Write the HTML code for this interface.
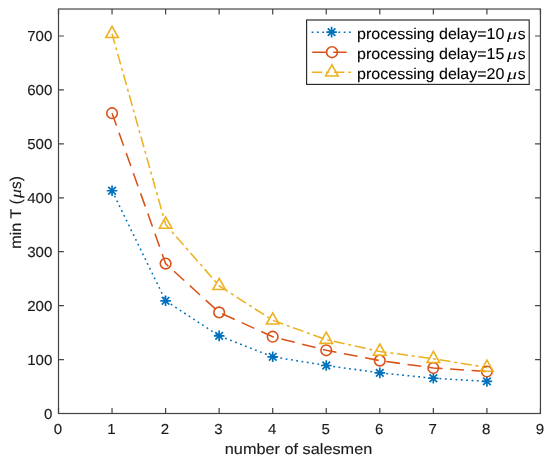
<!DOCTYPE html>
<html><head><meta charset="utf-8"><title>min T vs number of salesmen</title>
<style>html,body{margin:0;padding:0;background:#fff;}svg{display:block;}</style></head>
<body><svg width="550" height="462" viewBox="0 0 550 462" text-rendering="geometricPrecision">
<rect width="550" height="462" fill="#fff"/>
<rect x="58.5" y="9.02" width="481.95" height="404.48" fill="none" stroke="#444444" stroke-width="1.2"/>
<path d="M58.50 413.5V408.1M58.50 9.02V14.42M112.05 413.5V408.1M112.05 9.02V14.42M165.60 413.5V408.1M165.60 9.02V14.42M219.15 413.5V408.1M219.15 9.02V14.42M272.70 413.5V408.1M272.70 9.02V14.42M326.25 413.5V408.1M326.25 9.02V14.42M379.80 413.5V408.1M379.80 9.02V14.42M433.35 413.5V408.1M433.35 9.02V14.42M486.90 413.5V408.1M486.90 9.02V14.42M540.45 413.5V408.1M540.45 9.02V14.42M58.5 413.50H63.9M540.45 413.50H535.05M58.5 359.57H63.9M540.45 359.57H535.05M58.5 305.64H63.9M540.45 305.64H535.05M58.5 251.71H63.9M540.45 251.71H535.05M58.5 197.78H63.9M540.45 197.78H535.05M58.5 143.85H63.9M540.45 143.85H535.05M58.5 89.92H63.9M540.45 89.92H535.05M58.5 35.99H63.9M540.45 35.99H535.05" stroke="#444444" stroke-width="1.2" fill="none"/>
<polyline points="112.05,190.77 165.60,300.79 219.15,335.84 272.70,356.82 326.25,365.50 379.80,372.89 433.35,378.23 486.90,381.41" fill="none" stroke="#0072BD" stroke-width="1.55" stroke-dasharray="1.8 3.55" stroke-dashoffset="-0.2"/>
<polyline points="112.05,113.22 165.60,263.57 219.15,312.38 272.70,336.70 326.25,350.29 379.80,360.59 433.35,367.98 486.90,371.49" fill="none" stroke="#D95319" stroke-width="1.55" stroke-dasharray="13.8 7.67" stroke-dashoffset="0.8"/>
<polyline points="112.05,33.83 165.60,224.48 219.15,285.79 272.70,320.31 326.25,339.62 379.80,351.48 433.35,358.81 486.90,367.50" fill="none" stroke="#EDB120" stroke-width="1.55" stroke-dasharray="11 3.8 3 3.7" stroke-dashoffset="0.7"/>
<g fill="none" stroke="#0072BD" stroke-width="1.7"><path d="M106.75 190.77H117.35M112.05 185.47V196.07M108.25 186.97L115.85 194.57M108.25 194.57L115.85 186.97"/><path d="M160.30 300.79H170.90M165.60 295.49V306.09M161.80 296.99L169.40 304.59M161.80 304.59L169.40 296.99"/><path d="M213.85 335.84H224.45M219.15 330.54V341.14M215.35 332.04L222.95 339.64M215.35 339.64L222.95 332.04"/><path d="M267.40 356.82H278.00M272.70 351.52V362.12M268.90 353.02L276.50 360.62M268.90 360.62L276.50 353.02"/><path d="M320.95 365.50H331.55M326.25 360.20V370.80M322.45 361.70L330.05 369.30M322.45 369.30L330.05 361.70"/><path d="M374.50 372.89H385.10M379.80 367.59V378.19M376.00 369.09L383.60 376.69M376.00 376.69L383.60 369.09"/><path d="M428.05 378.23H438.65M433.35 372.93V383.53M429.55 374.43L437.15 382.03M429.55 382.03L437.15 374.43"/><path d="M481.60 381.41H492.20M486.90 376.11V386.71M483.10 377.61L490.70 385.21M483.10 385.21L490.70 377.61"/></g>
<g fill="none" stroke="#D95319" stroke-width="1.6"><circle cx="112.05" cy="113.22" r="5.3"/><circle cx="165.60" cy="263.57" r="5.3"/><circle cx="219.15" cy="312.38" r="5.3"/><circle cx="272.70" cy="336.70" r="5.3"/><circle cx="326.25" cy="350.29" r="5.3"/><circle cx="379.80" cy="360.59" r="5.3"/><circle cx="433.35" cy="367.98" r="5.3"/><circle cx="486.90" cy="371.49" r="5.3"/></g>
<g fill="none" stroke="#EDB120" stroke-width="1.6"><path d="M112.05 26.37L118.35 37.57L105.75 37.57Z"/><path d="M165.60 217.01L171.90 228.21L159.30 228.21Z"/><path d="M219.15 278.33L225.45 289.53L212.85 289.53Z"/><path d="M272.70 312.84L279.00 324.04L266.40 324.04Z"/><path d="M326.25 332.15L332.55 343.35L319.95 343.35Z"/><path d="M379.80 344.01L386.10 355.21L373.50 355.21Z"/><path d="M433.35 351.35L439.65 362.55L427.05 362.55Z"/><path d="M486.90 360.03L493.20 371.23L480.60 371.23Z"/></g>
<g font-family="Liberation Sans, Arial, sans-serif" font-size="14.5" fill="#1a1a1a" stroke="#1a1a1a" stroke-width="0.12"><text transform="translate(57.90 433.7) scale(1.04 1)" text-anchor="middle">0</text><text transform="translate(111.45 433.7) scale(1.04 1)" text-anchor="middle">1</text><text transform="translate(165.00 433.7) scale(1.04 1)" text-anchor="middle">2</text><text transform="translate(218.55 433.7) scale(1.04 1)" text-anchor="middle">3</text><text transform="translate(272.10 433.7) scale(1.04 1)" text-anchor="middle">4</text><text transform="translate(325.65 433.7) scale(1.04 1)" text-anchor="middle">5</text><text transform="translate(379.20 433.7) scale(1.04 1)" text-anchor="middle">6</text><text transform="translate(432.75 433.7) scale(1.04 1)" text-anchor="middle">7</text><text transform="translate(486.30 433.7) scale(1.04 1)" text-anchor="middle">8</text><text transform="translate(539.85 433.7) scale(1.04 1)" text-anchor="middle">9</text><text transform="translate(52.4 418.60) scale(1.04 1)" text-anchor="end">0</text><text transform="translate(52.4 364.67) scale(1.04 1)" text-anchor="end">100</text><text transform="translate(52.4 310.74) scale(1.04 1)" text-anchor="end">200</text><text transform="translate(52.4 256.81) scale(1.04 1)" text-anchor="end">300</text><text transform="translate(52.4 202.88) scale(1.04 1)" text-anchor="end">400</text><text transform="translate(52.4 148.95) scale(1.04 1)" text-anchor="end">500</text><text transform="translate(52.4 95.02) scale(1.04 1)" text-anchor="end">600</text><text transform="translate(52.4 41.09) scale(1.04 1)" text-anchor="end">700</text></g>
<text transform="translate(224.81 453.7) scale(1.0851 1)" font-family="Liberation Sans, Arial, sans-serif" font-size="15" fill="#1a1a1a" stroke="#1a1a1a" stroke-width="0.12">number of salesmen</text>
<text transform="translate(21.0 247.8) rotate(-90) translate(-1.04 0) scale(1.0430 1)" font-family="Liberation Sans, Arial, sans-serif" font-size="15.5" fill="#1a1a1a" stroke="#1a1a1a" stroke-width="0.12">min T (</text>
<text transform="translate(21.0 247.8) rotate(-90) translate(49.80 0) scale(1.1448 1)" font-family="Liberation Serif, Times New Roman, serif" font-style="italic" font-size="15.5" fill="#1a1a1a" stroke="#1a1a1a" stroke-width="0.12">μ</text>
<text transform="translate(21.0 247.8) rotate(-90) translate(58.81 0) scale(0.9826 1)" font-family="Liberation Sans, Arial, sans-serif" font-size="15.5" fill="#1a1a1a" stroke="#1a1a1a" stroke-width="0.12">s)</text>
<g><rect x="306.6" y="20" width="222.6" height="64.4" fill="#fff" stroke="#262626" stroke-width="1.15"/><line x1="311.6" y1="32.15" x2="351.5" y2="32.15" stroke="#0072BD" stroke-width="1.55" stroke-dasharray="1.8 3.55"/><g fill="none" stroke="#0072BD" stroke-width="1.7"><path d="M326.30 32.15H336.90M331.60 26.85V37.45M327.80 28.35L335.40 35.95M327.80 35.95L335.40 28.35"/></g><text transform="translate(357.07 38.5) scale(1.0333 1)" font-family="Liberation Sans, Arial, sans-serif" font-size="15.5" fill="#000" stroke="#000" stroke-width="0.1">processing delay=10</text><text transform="translate(507.10 38.5) scale(1.3778 1)" font-family="Liberation Serif, Times New Roman, serif" font-style="italic" font-size="14.5" fill="#000" stroke="#000" stroke-width="0">μ</text><text transform="translate(517.80 38.5) scale(1.0074 1)" font-family="Liberation Sans, Arial, sans-serif" font-size="15.5" fill="#000" stroke="#000" stroke-width="0.1">s</text><line x1="312.2" y1="52.2" x2="346.7" y2="52.2" stroke="#D95319" stroke-width="1.55" stroke-dasharray="14.5 6.5"/><g fill="none" stroke="#D95319" stroke-width="1.6"><circle cx="332.00" cy="52.20" r="5.4"/></g><text transform="translate(357.07 58.5) scale(1.0333 1)" font-family="Liberation Sans, Arial, sans-serif" font-size="15.5" fill="#000" stroke="#000" stroke-width="0.1">processing delay=15</text><text transform="translate(507.10 58.5) scale(1.3778 1)" font-family="Liberation Serif, Times New Roman, serif" font-style="italic" font-size="14.5" fill="#000" stroke="#000" stroke-width="0">μ</text><text transform="translate(517.80 58.5) scale(1.0074 1)" font-family="Liberation Sans, Arial, sans-serif" font-size="15.5" fill="#000" stroke="#000" stroke-width="0.1">s</text><line x1="311.8" y1="72.3" x2="351.2" y2="72.3" stroke="#EDB120" stroke-width="1.55" stroke-dasharray="10.4 4.0 2.8 4.9"/><g fill="none" stroke="#EDB120" stroke-width="1.6"><path d="M331.90 64.97L338.20 75.97L325.60 75.97Z"/></g><text transform="translate(357.07 78.5) scale(1.0333 1)" font-family="Liberation Sans, Arial, sans-serif" font-size="15.5" fill="#000" stroke="#000" stroke-width="0.1">processing delay=20</text><text transform="translate(507.10 78.5) scale(1.3778 1)" font-family="Liberation Serif, Times New Roman, serif" font-style="italic" font-size="14.5" fill="#000" stroke="#000" stroke-width="0">μ</text><text transform="translate(517.80 78.5) scale(1.0074 1)" font-family="Liberation Sans, Arial, sans-serif" font-size="15.5" fill="#000" stroke="#000" stroke-width="0.1">s</text></g>
</svg></body></html>
